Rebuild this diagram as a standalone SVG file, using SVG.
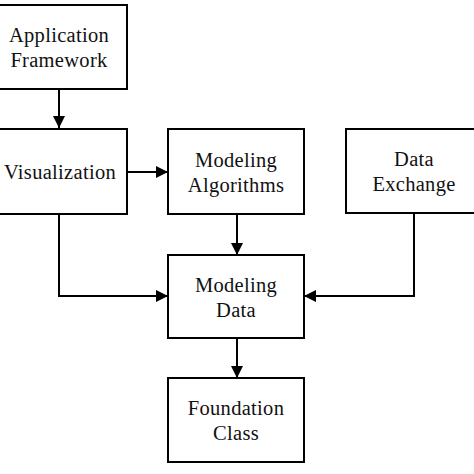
<svg xmlns="http://www.w3.org/2000/svg" width="474" height="474" viewBox="0 0 474 474">
<style>
.box{fill:#fff;stroke:#000;stroke-width:2}
.t{font-family:"Liberation Serif","Times New Roman",serif;font-size:20.5px;fill:#111;text-anchor:middle;letter-spacing:0.3px}
.c{fill:none;stroke:#000;stroke-width:2}
</style>
<defs>
<marker id="ah" viewBox="0 0 12 12" refX="12" refY="6" markerWidth="12" markerHeight="12" markerUnits="userSpaceOnUse" orient="auto">
<path d="M0,0 L12,6 L0,12 Z" fill="#000"/>
</marker>
</defs>
<rect width="474" height="474" fill="#fff"/>
<g id="connectors">
<path class="c" d="M59,89 V128" marker-end="url(#ah)"/>
<path class="c" d="M127,172 H168" marker-end="url(#ah)"/>
<path class="c" d="M237,214 V255" marker-end="url(#ah)"/>
<path class="c" d="M59,214 V296 H168" marker-end="url(#ah)"/>
<path class="c" d="M414,213 V296 H304" marker-end="url(#ah)"/>
<path class="c" d="M237,338 V378" marker-end="url(#ah)"/>
</g>
<g id="app">
<rect class="box" x="-9" y="5" width="136" height="84"/>
<text class="t" x="59" y="42">Application</text>
<text class="t" x="59" y="67">Framework</text>
</g>
<g id="vis">
<rect class="box" x="-9" y="129" width="136" height="85"/>
<text class="t" x="60" y="179">Visualization</text>
</g>
<g id="alg">
<rect class="box" x="168" y="129" width="136" height="85"/>
<text class="t" x="236" y="167">Modeling</text>
<text class="t" x="236" y="192">Algorithms</text>
</g>
<g id="exch">
<rect class="box" x="346" y="129" width="136" height="84"/>
<text class="t" x="414" y="166">Data</text>
<text class="t" x="414" y="191">Exchange</text>
</g>
<g id="data">
<rect class="box" x="168" y="255" width="136" height="83"/>
<text class="t" x="236" y="292">Modeling</text>
<text class="t" x="236" y="317">Data</text>
</g>
<g id="found">
<rect class="box" x="168" y="378" width="136" height="84"/>
<text class="t" x="236" y="415">Foundation</text>
<text class="t" x="236" y="440">Class</text>
</g>
</svg>
